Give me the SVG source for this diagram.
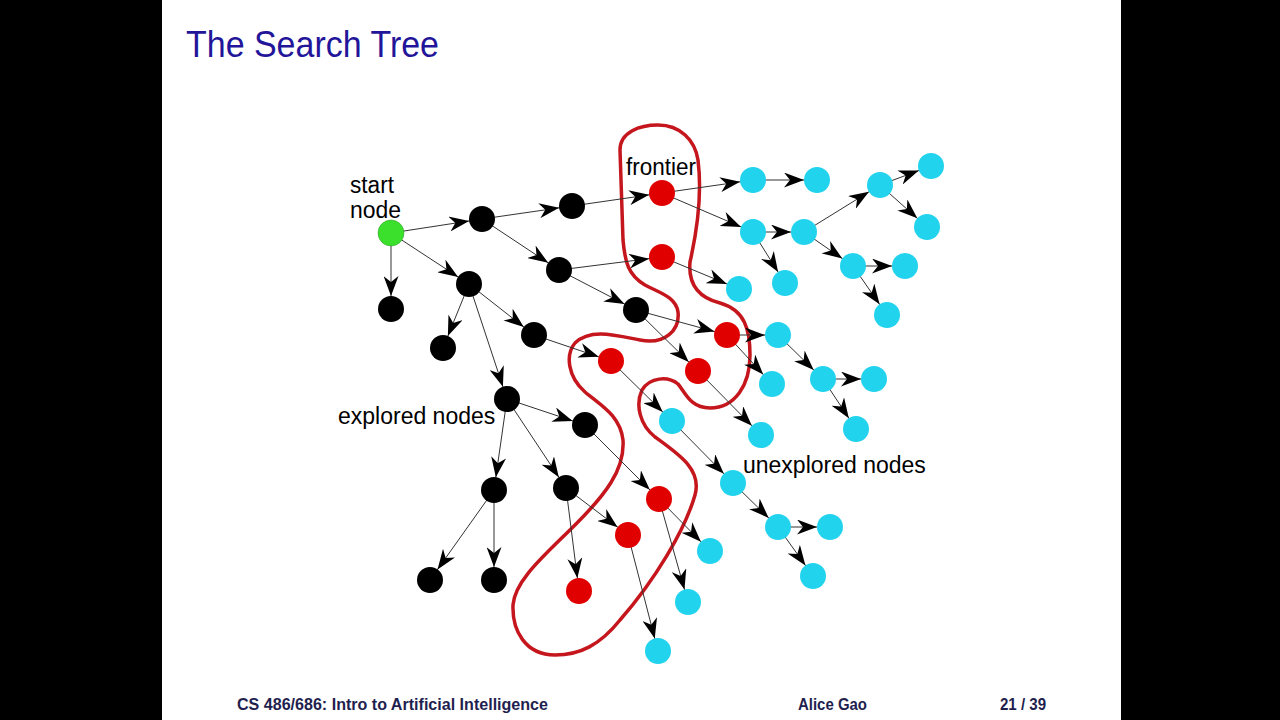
<svg xmlns="http://www.w3.org/2000/svg" width="1280" height="720" viewBox="0 0 1280 720">
<defs>
<marker id="arr" viewBox="0 0 20 15" markerWidth="20" markerHeight="15" refX="33" refY="7.5" orient="auto" markerUnits="userSpaceOnUse">
<path d="M0,0 L20,7.5 L0,15 L6,7.5 Z" fill="#000"/>
</marker>
</defs>
<style>
.e{stroke:#333;stroke-width:1;marker-end:url(#arr)}
.k{fill:#000}
.r{fill:#e00000}
.c{fill:#22d3ee}
.g{fill:#3ae02c;stroke:#2a9a20;stroke-width:0.5}
.lbl{font-family:"Liberation Sans",Arial,sans-serif;font-size:23px;fill:#000}
.foot{font-family:"Liberation Sans",Arial,sans-serif;font-size:16px;font-weight:bold;fill:#1f1f4f}
</style>
<rect x="0" y="0" width="1280" height="720" fill="#000"/>
<rect x="162" y="0" width="959" height="720" fill="#fff"/>
<text x="186" y="57" font-family="'Liberation Sans',Arial,sans-serif" font-size="36" fill="#23159a" textLength="253" lengthAdjust="spacingAndGlyphs">The Search Tree</text>

<path id="frontier-outline" d="M620,150 C620,132 640,125 658,125 C680,125 695,140 698,160 C703,200 695,240 690,262 C688,285 700,298 720,303 C745,310 750,330 750,355 C750,385 735,408 710,408 C690,408 685,392 678,384 C668,376 650,377 642,390 C635,405 640,425 655,437 C680,455 702,470 695,495 C685,530 655,580 620,620 C600,645 580,655 555,655 C525,655 512,630 513,605 C515,580 545,555 575,525 C605,495 625,470 623,440 C620,415 600,405 585,392 C568,377 565,355 575,343 C590,328 615,335 640,340 C665,345 680,330 678,312 C676,297 660,293 645,285 C628,275 625,262 623,240 Z" fill="none" stroke="#c4161c" stroke-width="3.5"/>

<g id="connectors">
<line class="e" x1="391" y1="233" x2="482" y2="219"/>
<line class="e" x1="391" y1="233" x2="469" y2="284"/>
<line class="e" x1="391" y1="233" x2="391" y2="309"/>
<line class="e" x1="482" y1="219" x2="572" y2="206"/>
<line class="e" x1="482" y1="219" x2="559" y2="270"/>
<line class="e" x1="572" y1="206" x2="662" y2="193"/>
<line class="e" x1="559" y1="270" x2="662" y2="257"/>
<line class="e" x1="559" y1="270" x2="636" y2="310"/>
<line class="e" x1="469" y1="284" x2="443" y2="348"/>
<line class="e" x1="469" y1="284" x2="534" y2="335"/>
<line class="e" x1="469" y1="284" x2="507" y2="399"/>
<line class="e" x1="534" y1="335" x2="611" y2="361"/>
<line class="e" x1="636" y1="310" x2="727" y2="335"/>
<line class="e" x1="636" y1="310" x2="698" y2="371"/>
<line class="e" x1="507" y1="399" x2="585" y2="425"/>
<line class="e" x1="507" y1="399" x2="494" y2="490"/>
<line class="e" x1="507" y1="399" x2="566" y2="488"/>
<line class="e" x1="585" y1="425" x2="659" y2="499"/>
<line class="e" x1="494" y1="490" x2="430" y2="580"/>
<line class="e" x1="494" y1="490" x2="494" y2="580"/>
<line class="e" x1="566" y1="488" x2="628" y2="535"/>
<line class="e" x1="566" y1="488" x2="579" y2="591"/>
<line class="e" x1="662" y1="193" x2="753" y2="180"/>
<line class="e" x1="662" y1="193" x2="753" y2="232"/>
<line class="e" x1="753" y1="180" x2="817" y2="180"/>
<line class="e" x1="753" y1="232" x2="804" y2="232"/>
<line class="e" x1="753" y1="232" x2="785" y2="283"/>
<line class="e" x1="804" y1="232" x2="880" y2="185"/>
<line class="e" x1="804" y1="232" x2="853" y2="266"/>
<line class="e" x1="880" y1="185" x2="931" y2="166"/>
<line class="e" x1="880" y1="185" x2="927" y2="227"/>
<line class="e" x1="853" y1="266" x2="905" y2="266"/>
<line class="e" x1="853" y1="266" x2="887" y2="315"/>
<line class="e" x1="662" y1="257" x2="739" y2="289"/>
<line class="e" x1="727" y1="335" x2="778" y2="335"/>
<line class="e" x1="727" y1="335" x2="772" y2="384"/>
<line class="e" x1="778" y1="335" x2="823" y2="379"/>
<line class="e" x1="823" y1="379" x2="874" y2="379"/>
<line class="e" x1="823" y1="379" x2="856" y2="429"/>
<line class="e" x1="698" y1="371" x2="761" y2="435"/>
<line class="e" x1="611" y1="361" x2="672" y2="421"/>
<line class="e" x1="672" y1="421" x2="733" y2="483"/>
<line class="e" x1="733" y1="483" x2="778" y2="527"/>
<line class="e" x1="778" y1="527" x2="830" y2="527"/>
<line class="e" x1="778" y1="527" x2="813" y2="576"/>
<line class="e" x1="659" y1="499" x2="710" y2="551"/>
<line class="e" x1="659" y1="499" x2="688" y2="602"/>
<line class="e" x1="628" y1="535" x2="658" y2="651"/>
</g>

<g id="start"><circle class="g" cx="391" cy="233" r="13"/><text class="lbl" x="350" y="193" font-size="19.5" textLength="44" lengthAdjust="spacingAndGlyphs">start</text><text class="lbl" x="350" y="218" font-size="19.5" textLength="51" lengthAdjust="spacingAndGlyphs">node</text></g>
<g id="b1"><circle class="k" cx="482" cy="219" r="13"/></g>
<g id="b2"><circle class="k" cx="572" cy="206" r="13"/></g>
<g id="b3"><circle class="k" cx="469" cy="284" r="13"/></g>
<g id="b4"><circle class="k" cx="559" cy="270" r="13"/></g>
<g id="b5"><circle class="k" cx="391" cy="309" r="13"/></g>
<g id="b6"><circle class="k" cx="443" cy="348" r="13"/></g>
<g id="b7"><circle class="k" cx="534" cy="335" r="13"/></g>
<g id="b8"><circle class="k" cx="636" cy="310" r="13"/></g>
<g id="b9"><circle class="k" cx="507" cy="399" r="13"/><text class="lbl" x="338" y="424">explored nodes</text></g>
<g id="b10"><circle class="k" cx="585" cy="425" r="13"/></g>
<g id="b11"><circle class="k" cx="494" cy="490" r="13"/></g>
<g id="b12"><circle class="k" cx="566" cy="488" r="13"/></g>
<g id="b13"><circle class="k" cx="430" cy="580" r="13"/></g>
<g id="b14"><circle class="k" cx="494" cy="580" r="13"/></g>

<g id="r1"><circle class="r" cx="662" cy="193" r="13"/><text class="lbl" x="626" y="175" font-size="22" textLength="70" lengthAdjust="spacingAndGlyphs">frontier</text></g>
<g id="r2"><circle class="r" cx="662" cy="257" r="13"/></g>
<g id="r3"><circle class="r" cx="727" cy="335" r="13"/></g>
<g id="r4"><circle class="r" cx="611" cy="361" r="13"/></g>
<g id="r5"><circle class="r" cx="698" cy="371" r="13"/></g>
<g id="r6"><circle class="r" cx="659" cy="499" r="13"/></g>
<g id="r7"><circle class="r" cx="628" cy="535" r="13"/></g>
<g id="r8"><circle class="r" cx="579" cy="591" r="13"/></g>

<g id="c1"><circle class="c" cx="753" cy="180" r="13"/></g>
<g id="c2"><circle class="c" cx="817" cy="180" r="13"/></g>
<g id="c3"><circle class="c" cx="753" cy="232" r="13"/></g>
<g id="c4"><circle class="c" cx="804" cy="232" r="13"/></g>
<g id="c5"><circle class="c" cx="785" cy="283" r="13"/></g>
<g id="c6"><circle class="c" cx="880" cy="185" r="13"/></g>
<g id="c7"><circle class="c" cx="931" cy="166" r="13"/></g>
<g id="c8"><circle class="c" cx="927" cy="227" r="13"/></g>
<g id="c9"><circle class="c" cx="853" cy="266" r="13"/></g>
<g id="c10"><circle class="c" cx="905" cy="266" r="13"/></g>
<g id="c11"><circle class="c" cx="887" cy="315" r="13"/></g>
<g id="c12"><circle class="c" cx="739" cy="289" r="13"/></g>
<g id="c13"><circle class="c" cx="778" cy="335" r="13"/></g>
<g id="c14"><circle class="c" cx="772" cy="384" r="13"/></g>
<g id="c15"><circle class="c" cx="823" cy="379" r="13"/></g>
<g id="c16"><circle class="c" cx="874" cy="379" r="13"/></g>
<g id="c17"><circle class="c" cx="856" cy="429" r="13"/></g>
<g id="c18"><circle class="c" cx="761" cy="435" r="13"/></g>
<g id="c19"><circle class="c" cx="672" cy="421" r="13"/></g>
<g id="c20"><circle class="c" cx="733" cy="483" r="13"/><text class="lbl" x="743" y="473">unexplored nodes</text></g>
<g id="c21"><circle class="c" cx="778" cy="527" r="13"/></g>
<g id="c22"><circle class="c" cx="830" cy="527" r="13"/></g>
<g id="c23"><circle class="c" cx="813" cy="576" r="13"/></g>
<g id="c24"><circle class="c" cx="710" cy="551" r="13"/></g>
<g id="c25"><circle class="c" cx="688" cy="602" r="13"/></g>
<g id="c26"><circle class="c" cx="658" cy="651" r="13"/></g>

<text class="foot" x="237" y="710" textLength="311" lengthAdjust="spacingAndGlyphs">CS 486/686: Intro to Artificial Intelligence</text>
<text class="foot" x="798" y="710" textLength="69" lengthAdjust="spacingAndGlyphs">Alice Gao</text>
<text class="foot" x="1000" y="710" textLength="46" lengthAdjust="spacingAndGlyphs">21 / 39</text>
</svg>
